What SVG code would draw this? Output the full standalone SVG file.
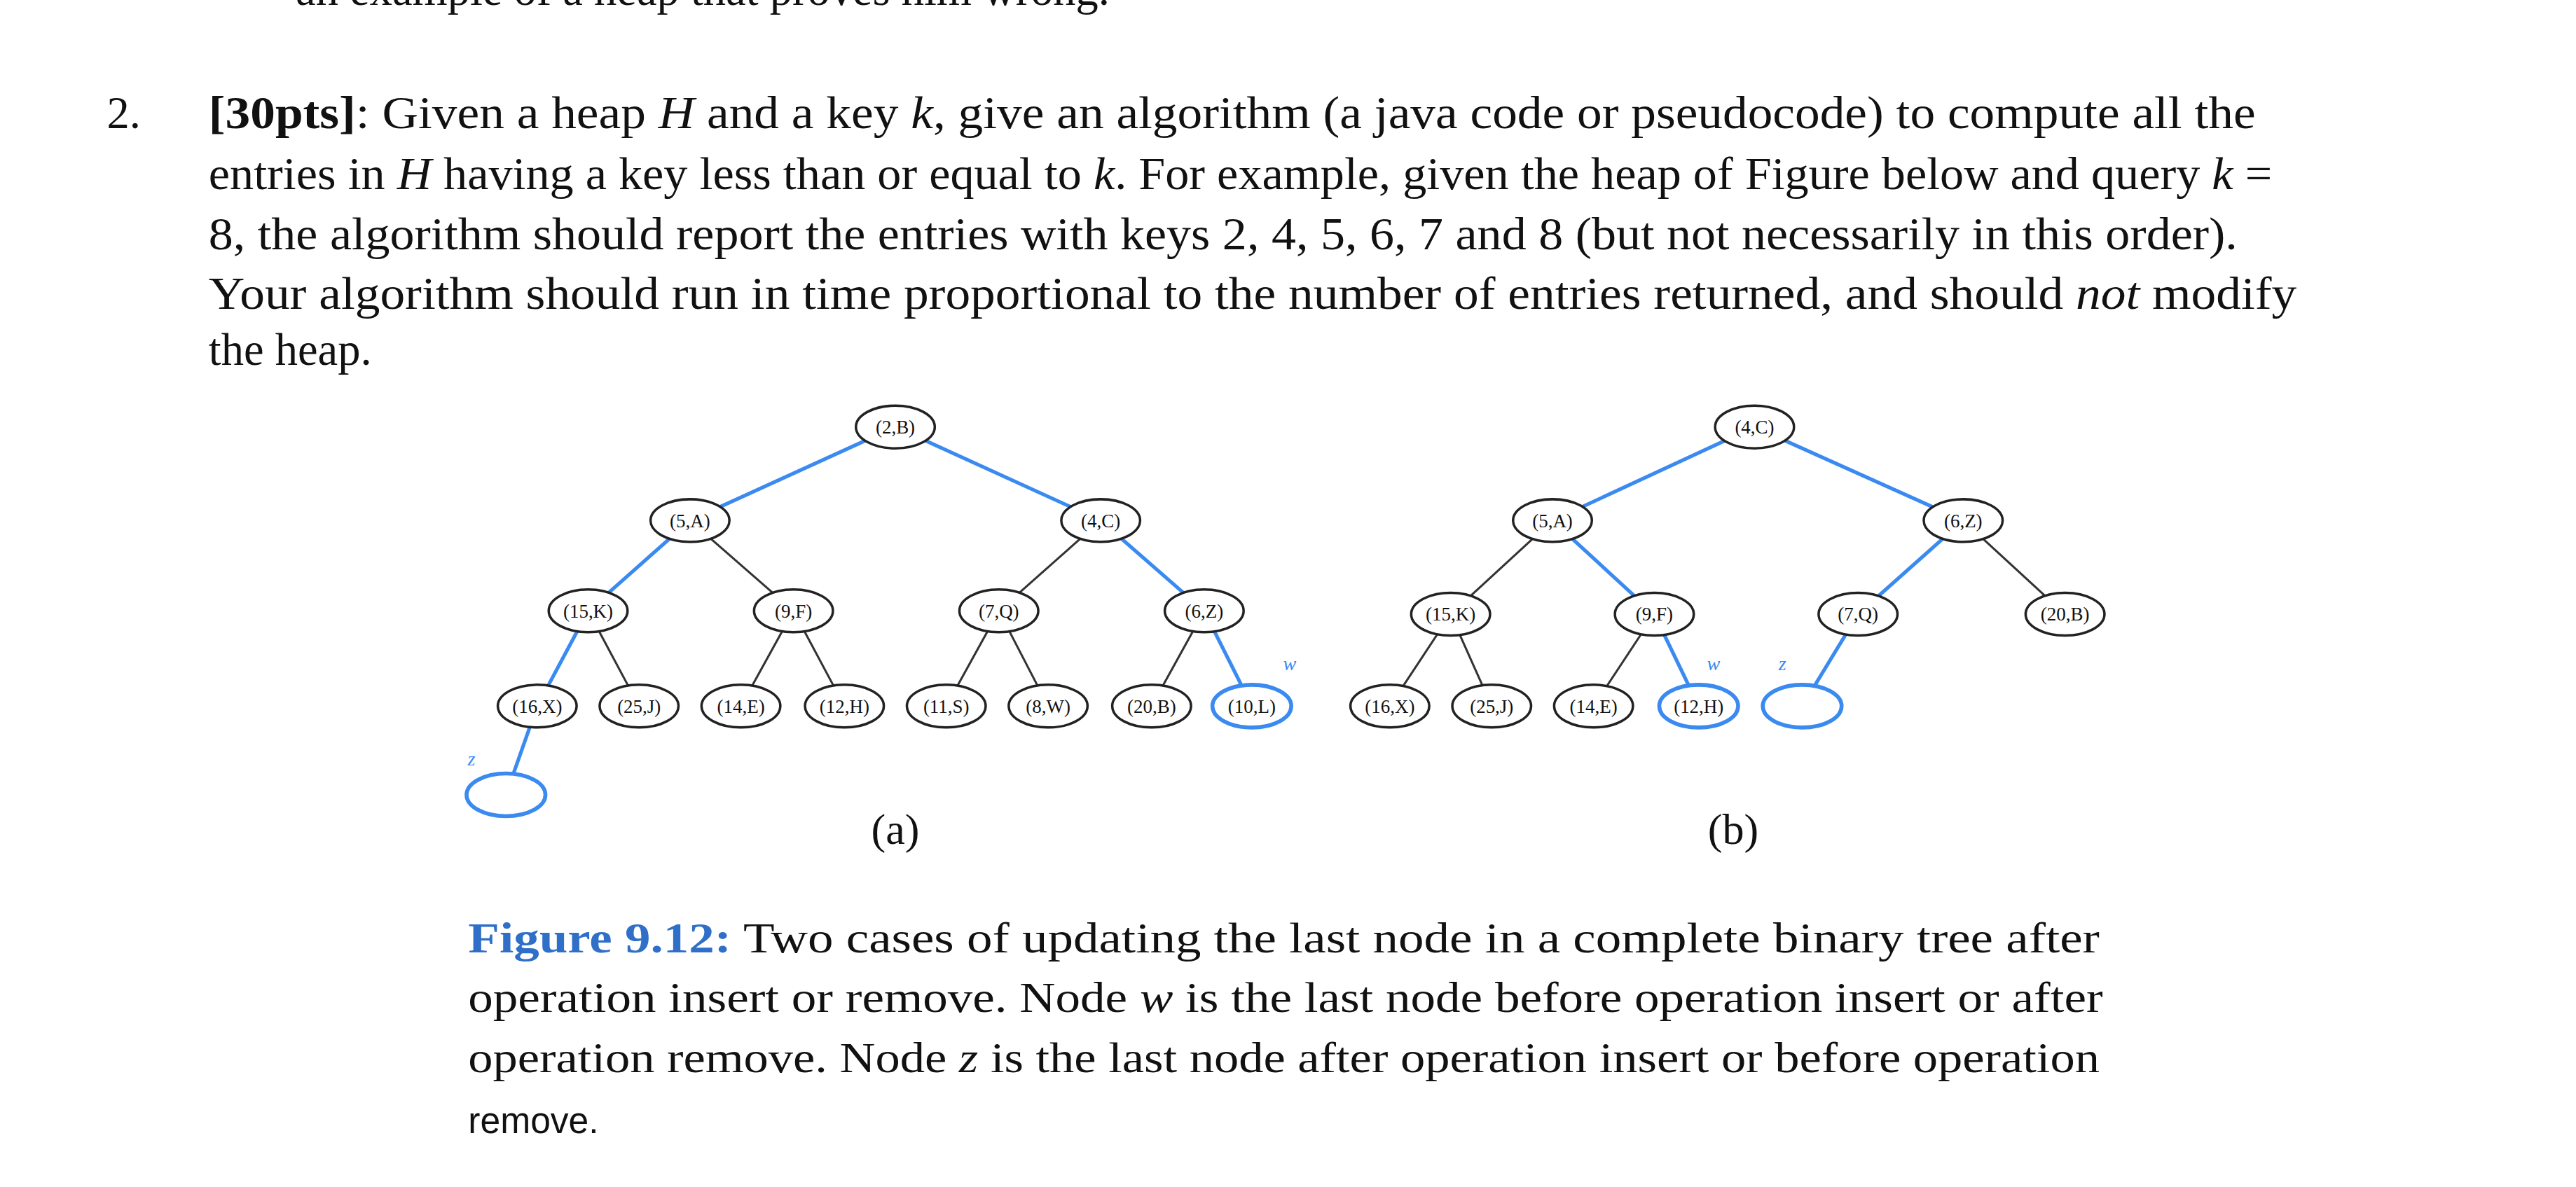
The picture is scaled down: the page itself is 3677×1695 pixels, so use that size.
<svg xmlns="http://www.w3.org/2000/svg" width="3677" height="1695" viewBox="0 0 3677 1695">
<style>
.t{font-family:"Liberation Serif",serif;font-size:27.5px;fill:#111}
.c{font-family:"Liberation Serif",serif;font-size:26.5px;fill:#111}
.n ellipse{fill:#fff;stroke:#222;stroke-width:1.5}
.n text{font-family:"Liberation Serif",serif;font-size:11.5px;fill:#111;text-anchor:middle}
.b ellipse{stroke:#3a8af0;stroke-width:2.4}
.e line{stroke:#333;stroke-width:1.3}
.e line.h{stroke:#3a8af0;stroke-width:2.2}
.lab{font-family:"Liberation Serif",serif;font-style:italic;font-size:12px;fill:#3a8af0;text-anchor:middle}
</style>
<rect width="3677" height="1695" fill="#fff"/>
<g transform="scale(2.345)">
<text class="t" x="180" y="3">an example of a heap that proves him wrong.</text>
<text class="t" x="65" y="78">2.</text>
<text class="t" x="127" y="78" textLength="1246" lengthAdjust="spacingAndGlyphs"><tspan font-weight="bold">[30pts]</tspan>: Given a heap <tspan font-style="italic">H</tspan> and a key <tspan font-style="italic">k</tspan>, give an algorithm (a java code or pseudocode) to compute all the</text>
<text class="t" x="127" y="115" textLength="1256" lengthAdjust="spacingAndGlyphs">entries in <tspan font-style="italic">H</tspan> having a key less than or equal to <tspan font-style="italic">k</tspan>. For example, given the heap of Figure below and query <tspan font-style="italic">k</tspan> =</text>
<text class="t" x="127" y="152" textLength="1235" lengthAdjust="spacingAndGlyphs">8, the algorithm should report the entries with keys 2, 4, 5, 6, 7 and 8 (but not necessarily in this order).</text>
<text class="t" x="127" y="188" textLength="1271" lengthAdjust="spacingAndGlyphs">Your algorithm should run in time proportional to the number of entries returned, and should <tspan font-style="italic">not</tspan> modify</text>
<text class="t" x="127" y="222">the heap.</text>

<g id="edges" class="e">
<line class="h" x1="545" y1="260" x2="420" y2="317"/>
<line class="h" x1="545" y1="260" x2="670" y2="317"/>
<line class="h" x1="420" y1="317" x2="358" y2="372"/>
<line x1="420" y1="317" x2="483" y2="372"/>
<line x1="670" y1="317" x2="608" y2="372"/>
<line class="h" x1="670" y1="317" x2="733" y2="372"/>
<line class="h" x1="358" y1="372" x2="327" y2="430"/>
<line x1="358" y1="372" x2="389" y2="430"/>
<line x1="483" y1="372" x2="451" y2="430"/>
<line x1="483" y1="372" x2="514" y2="430"/>
<line x1="608" y1="372" x2="576" y2="430"/>
<line x1="608" y1="372" x2="638" y2="430"/>
<line x1="733" y1="372" x2="701" y2="430"/>
<line class="h" x1="733" y1="372" x2="762" y2="430"/>
<line class="h" x1="327" y1="430" x2="308" y2="484"/>

<line class="h" x1="1068" y1="260" x2="945" y2="317"/>
<line class="h" x1="1068" y1="260" x2="1195" y2="317"/>
<line x1="945" y1="317" x2="883" y2="374"/>
<line class="h" x1="945" y1="317" x2="1007" y2="374"/>
<line class="h" x1="1195" y1="317" x2="1131" y2="374"/>
<line x1="1195" y1="317" x2="1257" y2="374"/>
<line x1="883" y1="374" x2="846" y2="430"/>
<line x1="883" y1="374" x2="908" y2="430"/>
<line x1="1007" y1="374" x2="970" y2="430"/>
<line class="h" x1="1007" y1="374" x2="1034" y2="430"/>
<line class="h" x1="1131" y1="374" x2="1097" y2="430"/>
</g>

<g id="a-2B" class="n"><ellipse cx="545" cy="260" rx="24" ry="13"/><text x="545" y="264">(2,B)</text></g>
<g id="a-5A" class="n"><ellipse cx="420" cy="317" rx="24" ry="13"/><text x="420" y="321">(5,A)</text></g>
<g id="a-4C" class="n"><ellipse cx="670" cy="317" rx="24" ry="13"/><text x="670" y="321">(4,C)</text></g>
<g id="a-15K" class="n"><ellipse cx="358" cy="372" rx="24" ry="13"/><text x="358" y="376">(15,K)</text></g>
<g id="a-9F" class="n"><ellipse cx="483" cy="372" rx="24" ry="13"/><text x="483" y="376">(9,F)</text></g>
<g id="a-7Q" class="n"><ellipse cx="608" cy="372" rx="24" ry="13"/><text x="608" y="376">(7,Q)</text></g>
<g id="a-6Z" class="n"><ellipse cx="733" cy="372" rx="24" ry="13"/><text x="733" y="376">(6,Z)</text></g>
<g id="a-16X" class="n"><ellipse cx="327" cy="430" rx="24" ry="13"/><text x="327" y="434">(16,X)</text></g>
<g id="a-25J" class="n"><ellipse cx="389" cy="430" rx="24" ry="13"/><text x="389" y="434">(25,J)</text></g>
<g id="a-14E" class="n"><ellipse cx="451" cy="430" rx="24" ry="13"/><text x="451" y="434">(14,E)</text></g>
<g id="a-12H" class="n"><ellipse cx="514" cy="430" rx="24" ry="13"/><text x="514" y="434">(12,H)</text></g>
<g id="a-11S" class="n"><ellipse cx="576" cy="430" rx="24" ry="13"/><text x="576" y="434">(11,S)</text></g>
<g id="a-8W" class="n"><ellipse cx="638" cy="430" rx="24" ry="13"/><text x="638" y="434">(8,W)</text></g>
<g id="a-20B" class="n"><ellipse cx="701" cy="430" rx="24" ry="13"/><text x="701" y="434">(20,B)</text></g>
<g id="a-10L" class="n b"><ellipse cx="762" cy="430" rx="24" ry="13"/><text x="762" y="434">(10,L)</text></g>
<g id="a-z" class="n b"><ellipse cx="308" cy="484" rx="24" ry="13"/></g>
<text class="lab" x="287" y="466">z</text>
<text class="lab" x="785" y="408">w</text>

<g id="b-4C" class="n"><ellipse cx="1068" cy="260" rx="24" ry="13"/><text x="1068" y="264">(4,C)</text></g>
<g id="b-5A" class="n"><ellipse cx="945" cy="317" rx="24" ry="13"/><text x="945" y="321">(5,A)</text></g>
<g id="b-6Z" class="n"><ellipse cx="1195" cy="317" rx="24" ry="13"/><text x="1195" y="321">(6,Z)</text></g>
<g id="b-15K" class="n"><ellipse cx="883" cy="374" rx="24" ry="13"/><text x="883" y="378">(15,K)</text></g>
<g id="b-9F" class="n"><ellipse cx="1007" cy="374" rx="24" ry="13"/><text x="1007" y="378">(9,F)</text></g>
<g id="b-7Q" class="n"><ellipse cx="1131" cy="374" rx="24" ry="13"/><text x="1131" y="378">(7,Q)</text></g>
<g id="b-20B" class="n"><ellipse cx="1257" cy="374" rx="24" ry="13"/><text x="1257" y="378">(20,B)</text></g>
<g id="b-16X" class="n"><ellipse cx="846" cy="430" rx="24" ry="13"/><text x="846" y="434">(16,X)</text></g>
<g id="b-25J" class="n"><ellipse cx="908" cy="430" rx="24" ry="13"/><text x="908" y="434">(25,J)</text></g>
<g id="b-14E" class="n"><ellipse cx="970" cy="430" rx="24" ry="13"/><text x="970" y="434">(14,E)</text></g>
<g id="b-12H" class="n b"><ellipse cx="1034" cy="430" rx="24" ry="13"/><text x="1034" y="434">(12,H)</text></g>
<g id="b-z" class="n b"><ellipse cx="1097" cy="430" rx="24" ry="13"/></g>
<text class="lab" x="1043" y="408">w</text>
<text class="lab" x="1085" y="408">z</text>

<text class="c" x="545" y="514" text-anchor="middle">(a)</text>
<text class="c" x="1055" y="514" text-anchor="middle">(b)</text>

<text class="c" x="285" y="580" textLength="993" lengthAdjust="spacingAndGlyphs"><tspan font-weight="bold" fill="#2f6fc8">Figure 9.12:</tspan> Two cases of updating the last node in a complete binary tree after</text>
<text class="c" x="285" y="616" textLength="995" lengthAdjust="spacingAndGlyphs">operation insert or remove. Node <tspan font-style="italic">w</tspan> is the last node before operation insert or after</text>
<text class="c" x="285" y="653" textLength="993" lengthAdjust="spacingAndGlyphs">operation remove. Node <tspan font-style="italic">z</tspan> is the last node after operation insert or before operation</text>
<text x="285" y="690" style="font-family:'Liberation Sans',sans-serif;font-size:22px;fill:#111">remove.</text>
</g>
</svg>
